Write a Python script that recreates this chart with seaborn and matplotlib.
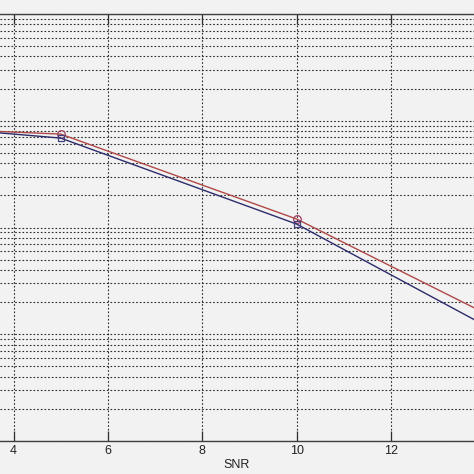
import numpy as np
import pandas as pd
import matplotlib
matplotlib.use("Agg")
import matplotlib.pyplot as plt
import seaborn as sns
from matplotlib.ticker import LogLocator, NullFormatter, FixedLocator

# Data
snr = [0, 5, 10, 15]
ber_red = [0.0931, 0.0750, 0.0120, 0.00094]
ber_blue = [0.106, 0.0688, 0.01076, 0.000695]
xticks = [4, 6, 8, 10, 12]
xlabel = "SNR"

sns.set_theme(style="white")
plt.rcParams['font.family'] = ['Liberation Sans', 'DejaVu Sans']

bg = "#f2f2f2"
fig = plt.figure(figsize=(4.74, 4.74), dpi=100, facecolor=bg)
ax = fig.add_axes([0.0, 1 - 441 / 474, 1.0, (441 - 14) / 474])
ax.set_facecolor(bg)

df_r = pd.DataFrame({"SNR": snr, "BER": ber_red})
df_b = pd.DataFrame({"SNR": snr, "BER": ber_blue})

sns.lineplot(data=df_r, x="SNR", y="BER", ax=ax, color="#b04848", lw=1.0,
             marker="o", markersize=5.5, markerfacecolor="none",
             markeredgecolor="#a04060", markeredgewidth=0.9)
sns.lineplot(data=df_b, x="SNR", y="BER", ax=ax, color="#2c2c6c", lw=1.0,
             marker="s", markersize=5, markerfacecolor="none",
             markeredgecolor="#404080", markeredgewidth=0.9)

ax.set_yscale("log")
ax.set_ylim(1e-4, 1e0)
ax.set_xlim(4 - 13.5 / 47.2, 4 + (474 - 13.5) / 47.2)
ax.xaxis.set_major_locator(FixedLocator(xticks))
ax.set_xticklabels([str(t) for t in xticks])
ax.yaxis.set_major_locator(LogLocator(base=10, numticks=10))
ax.yaxis.set_minor_locator(LogLocator(base=10, subs=np.arange(2, 10), numticks=20))
ax.yaxis.set_minor_formatter(NullFormatter())
ax.set_yticklabels([])
ax.set_ylabel("")

ax.grid(True, which="major", axis="x", color="#2a2a2a", linestyle=(0, (1.5, 1.8)), lw=0.8)
ax.grid(True, which="both", axis="y", color="#2a2a2a", linestyle=(0, (1.5, 1.8)), lw=0.8)

for s in ["left", "right"]:
    ax.spines[s].set_visible(False)
for s in ["top", "bottom"]:
    ax.spines[s].set_visible(True)
    ax.spines[s].set_color("#404040")
    ax.spines[s].set_linewidth(1.0)

ax.tick_params(axis="x", which="major", direction="in", length=7, width=0.9,
               color="#303030", top=True, bottom=True, labelsize=9, pad=3,
               labelcolor="#222222")
ax.tick_params(axis="y", which="both", left=False, right=False)

ax.set_xlabel(xlabel, fontsize=9, color="#222222", labelpad=1)

fig.savefig("out.png", dpi=100, facecolor=bg)
